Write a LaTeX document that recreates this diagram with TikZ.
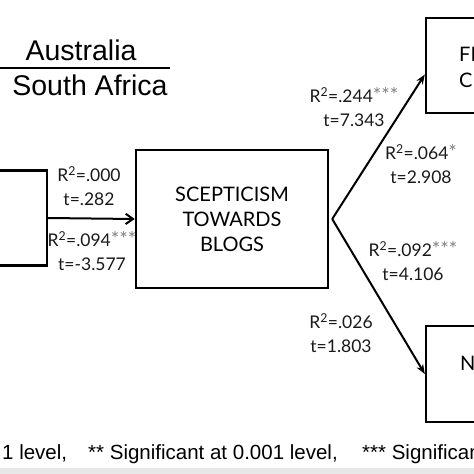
\documentclass[tikz,border=0pt]{standalone}
\usepackage{fontspec}
\setmainfont{Liberation Sans}
\newfontfamily\gill{Lato}
\usetikzlibrary{arrows.meta, positioning, calc}
\newcommand{\sig}[1]{{\fontsize{20}{20}\selectfont\textcolor{black!50}{#1}}}
\tikzset{
  bx/.style = {draw=black, line width=2.4pt, inner sep=0pt, fill=white},
  btx/.style = {font=\gill\fontsize{20}{26}\selectfont, align=left, inner sep=0pt},
  lbl/.style = {text=black!90, font=\gill\fontsize{17.5}{24}\selectfont,
    align=center, inner sep=0pt},
  leg/.style = {font=\fontsize{28.5}{34}\selectfont, inner sep=0pt, anchor=base},
  foot/.style = {font=\fontsize{20.5}{24}\selectfont, inner sep=0pt, anchor=base west},
  seta/.style = {-{Straight Barb[length=2.6mm, width=3.6mm, line width=2pt]},
    line width=2pt},
  prox/.style = {-{Stealth[length=3.4mm, width=2.6mm]}, line width=2pt}
}

\begin{document}
\begin{tikzpicture}[x=1pt, y=-1pt]
  \useasboundingbox (0,0) rectangle (474,474);
  \fill [black!9] (0,468) rectangle (474,474);

  % legend
  \node [leg] (au) at (81,60) {Australia};
  \node [leg] (sa) at (90,95) {South Africa};
  \draw [line width=1.4pt] (0,68) -- (170,68);

  % boxes
  \node [bx, minimum width=107pt, minimum height=95pt] (lb) at (-6.5,218) {};
  \node [bx, minimum width=192pt, minimum height=138pt,
    font=\gill\fontsize{20}{25}\selectfont, align=center] (scep) at (232,219)
    {SCEPTICISM\\TOWARDS\\BLOGS};
  \node [bx, minimum width=114pt, minimum height=95pt] (fl) at (483,65.5) {};
  \node [bx, minimum width=114pt, minimum height=96pt] (nb) at (483,374) {};
  \node [btx, anchor=west] (flt) at (459,67) {FI\\C};
  \node [btx, anchor=west] (nbt) at (460,363) {N};

  % paths
  \coordinate (fork) at ([xshift=3pt]scep.east);
  \draw [seta] (lb.east) -- (scep.west);
  \draw [prox] (fork) -- ([yshift=-9pt]fl.west);
  \draw [prox] (fork) -- (nb.west);

  % labels
  \node [lbl] (r1) at (89,186) {R\textsuperscript{2}=.000\\t=.282};
  \node [lbl] (r2) at (92,251) {R\textsuperscript{2}=.094\sig{***}\\t=-3.577};
  \node [lbl] (r3) at (354,107) {R\textsuperscript{2}=.244\sig{***}\\t=7.343};
  \node [lbl] (r4) at (421,164) {R\textsuperscript{2}=.064\sig{*}\\t=2.908};
  \node [lbl] (r5) at (413,261) {R\textsuperscript{2}=.092\sig{***}\\t=4.106};
  \node [lbl] (r6) at (341,333) {R\textsuperscript{2}=.026\\t=1.803};

  % footnote
  \node [foot] (f1) at (2,459) {1 level,};
  \node [foot] (f2) at (88,459) {** Significant at 0.001 level,};
  \node [foot] (f3) at (362,459) {*** Significant};
\end{tikzpicture}
\end{document}
